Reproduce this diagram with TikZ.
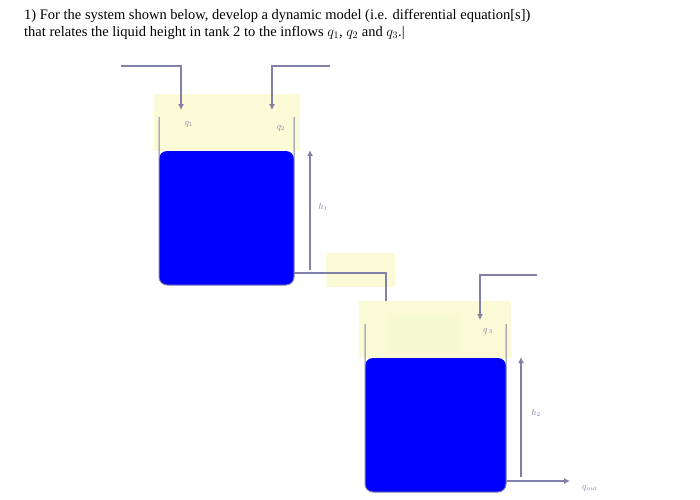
\documentclass[tikz,border=0pt]{standalone}
\usepackage{fontspec}
\setmainfont{Liberation Serif}
\usetikzlibrary{arrows.meta}
\begin{document}
\begin{tikzpicture}[x=1pt,y=-1pt,
  pipe/.style={draw=pc,line width=2pt},
  arr/.style={pipe,-{Latex[length=6pt,width=6pt]}},
  wall/.style={draw=pc,line width=1pt},
  lab/.style={text=pc,font=\small\itshape,inner sep=0pt},
  yel/.style={fill=yc,draw=none}]
\definecolor{pc}{RGB}{128,128,168}
\definecolor{yc}{RGB}{250,250,214}
\definecolor{yc2}{RGB}{246,250,210}
\definecolor{bl}{RGB}{0,0,255}
\useasboundingbox (0,0) rectangle (700,499);
\node[anchor=north west,align=left,inner sep=0pt,font=\fontsize{14.5}{17}\selectfont] (title) at (24,9)
 {1) For the system shown below, develop a dynamic model (i.e. differential equation[s])\\that relates the liquid height in tank 2 to the inflows $q_1$, $q_2$ and $q_3$.|};
% tank 1
\fill[yc] (154,94) rectangle (300,151);
\fill[yc] (326,253) rectangle (395,287);
\fill[bl,rounded corners=8pt] (159,151) -- (159,285) -- (294,285) -- (294,151) -- cycle;
\draw[wall,rounded corners=8pt] (159,117) -- (159,285) -- (294,285) -- (294,117);
\coordinate (i1) at (121,66); \coordinate (e1) at (181,110);
\coordinate (i2) at (330,66); \coordinate (e2) at (272,110);
\draw[arr] (i1) -| (e1);
\draw[arr] (i2) -| (e2);
\node[lab] (q1) at (189,124) {$q_1$};
\node[lab] (q2) at (281,128) {$q_2$};
\coordinate (h1a) at (310,270); \coordinate (h1b) at (310,150);
\draw[arr,line width=1.5pt] (h1a) -- (h1b);
\node[lab] (h1) at (323,207) {$h_1$};
\coordinate (o1) at (294,273); \coordinate (o1e) at (386,318);
\draw[arr] (o1) -| (o1e);
% tank 2
\fill[yc] (359,301) rectangle (511,358);
\fill[yc2] (388,315) rectangle (459,351);
\fill[bl,rounded corners=8pt] (365,358) -- (365,492) -- (506,492) -- (506,358) -- cycle;
\draw[wall,rounded corners=8pt] (365,324) -- (365,492) -- (506,492) -- (506,324);
\coordinate (i3) at (537,275); \coordinate (e3) at (480,320);
\draw[arr] (i3) -| (e3);
\node[lab] (q3) at (488,331) {$q_{\,3}$};
\coordinate (h2a) at (521,477); \coordinate (h2b) at (521,357);
\draw[arr,line width=1.5pt] (h2a) -- (h2b);
\node[lab] (h2) at (536,413) {$h_2$};
\coordinate (oa) at (506,481); \coordinate (ob) at (570,481);
\draw[arr] (oa) -- (ob);
\node[lab] (qout) at (590,488) {$q_{out}$};
\end{tikzpicture}
\end{document}
